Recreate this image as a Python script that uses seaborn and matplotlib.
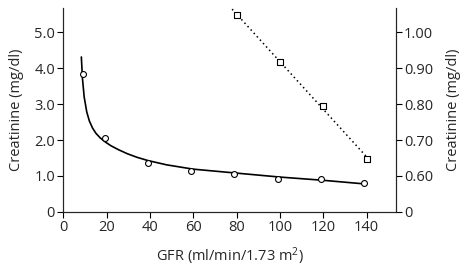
import numpy as np
import pandas as pd
import seaborn as sns
import matplotlib.pyplot as plt

# measured points (left axis, mg/dl)
gfr_pts = [9, 19, 39, 59, 79, 99, 119, 139]
creat_pts = [3.83, 2.05, 1.36, 1.15, 1.05, 0.93, 0.91, 0.81]

# fitted curve
gfr_curve = [8.3, 8.8, 9.6, 10.8, 12.0, 13.5, 15.0, 17.0, 19.5, 22.0, 25.5, 29.5, 34.0, 39.0, 47.7, 60, 80, 100, 120, 139]
creat_curve = [4.31, 3.72, 3.20, 2.78, 2.53, 2.33, 2.19, 2.06, 1.94, 1.84, 1.73, 1.62, 1.52, 1.43, 1.31, 1.19, 1.08, 0.97, 0.88, 0.78]

# second series (right axis)
gfr_sq = [80, 100, 120, 140]
creat_sq = [1.048, 0.917, 0.794, 0.648]

left_ticks = [0, 1, 2, 3, 4, 5]
left_labels = ["0", "1.0", "2.0", "3.0", "4.0", "5.0"]
right_ticks = [0.5, 0.6, 0.7, 0.8, 0.9, 1.0]
right_labels = ["0", "0.60", "0.70", "0.80", "0.90", "1.00"]
x_ticks = [0, 20, 40, 60, 80, 100, 120, 140]

sns.set_style("ticks")
plt.rcParams["font.family"] = ["Open Sans", "DejaVu Sans"]
plt.rcParams["mathtext.default"] = "regular"
fs = 10.5

fig = plt.figure(figsize=(4.66, 2.70), dpi=100)
ax = fig.add_axes([0.136, 0.215, 0.713, 0.755])

sns.lineplot(x=gfr_curve, y=creat_curve, ax=ax, color="black", lw=1.2, sort=False)
sns.scatterplot(x=gfr_pts, y=creat_pts, ax=ax, marker="o", s=18,
                facecolor="white", edgecolor="black", linewidth=0.8, zorder=3)

ax.set_xlim(0, 153.4)
ax.set_ylim(0, 5.67)
ax.set_xticks(x_ticks)
ax.set_yticks(left_ticks)
ax.set_yticklabels(left_labels)
ax.set_xlabel("GFR (ml/min/1.73 m$^{2}$)", fontsize=fs, labelpad=7)
ax.set_ylabel("Creatinine (mg/dl)", fontsize=fs, labelpad=7)
ax.tick_params(labelsize=fs, length=4, width=0.8, color="black", pad=2)

ax2 = ax.twinx()
ax2.set_ylim(0.5, 0.5 + 0.567)
slope, icpt = np.polyfit(gfr_sq, creat_sq, 1)
fit = pd.DataFrame({"x": [70, 140]})
fit["y"] = slope * fit["x"] + icpt
ax2.plot(fit["x"], fit["y"], color="black", lw=1.1, ls=(0, (1, 2)))
sns.scatterplot(x=gfr_sq, y=creat_sq, ax=ax2, marker="s", s=18,
                facecolor="white", edgecolor="black", linewidth=0.8, zorder=3)
ax2.set_yticks(right_ticks)
ax2.set_yticklabels(right_labels)
ax2.set_ylabel("Creatinine (mg/dl)", fontsize=fs, labelpad=9)
ax2.tick_params(labelsize=fs, length=4, width=0.8, color="black", pad=2)
for a in (ax, ax2):
    a.spines["top"].set_visible(False)
    for s in ("left", "right", "bottom"):
        a.spines[s].set_linewidth(0.8)

fig.savefig("out.png", dpi=100)
